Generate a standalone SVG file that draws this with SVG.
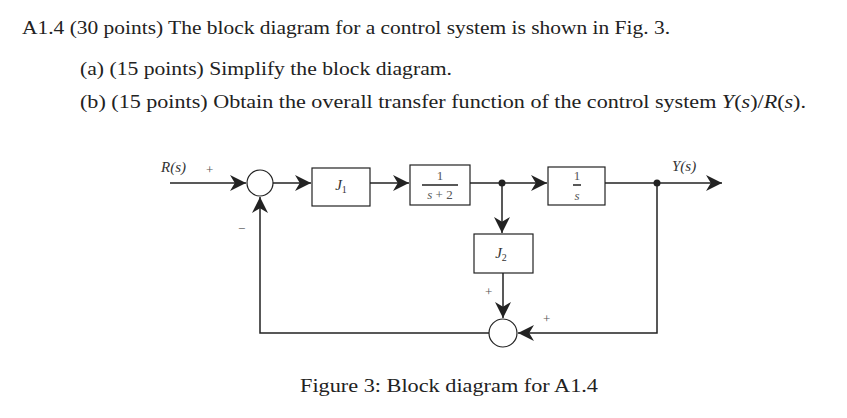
<svg xmlns="http://www.w3.org/2000/svg" width="847" height="418" viewBox="0 0 847 418">
<style>
.t{font-family:"Liberation Serif",serif;font-size:19px;fill:#222}
.m{font-family:"Liberation Serif",serif;font-size:15px;fill:#333;font-style:italic}
.s{font-family:"Liberation Serif",serif;font-size:13px;fill:#555}
.b{fill:#fff;stroke:#222;stroke-width:1.2}
.l{fill:none;stroke:#222;stroke-width:1.5}
</style>
<defs><marker id="a" viewBox="0 0 10 10" refX="10" refY="5" markerWidth="16" markerHeight="16" markerUnits="userSpaceOnUse" orient="auto"><path d="M0,0L10,5L0,10L3,5z" fill="#222"/></marker></defs>
<rect width="847" height="418" fill="#fff"/>
<text class="t" x="22" y="34" textLength="648" lengthAdjust="spacingAndGlyphs">A1.4 (30 points) The block diagram for a control system is shown in Fig. 3.</text>
<text class="t" x="80" y="75" textLength="372" lengthAdjust="spacingAndGlyphs">(a) (15 points) Simplify the block diagram.</text>
<text class="t" x="80" y="108" textLength="726" lengthAdjust="spacingAndGlyphs">(b) (15 points) Obtain the overall transfer function of the control system <tspan font-style="italic">Y</tspan>(<tspan font-style="italic">s</tspan>)/<tspan font-style="italic">R</tspan>(<tspan font-style="italic">s</tspan>).</text>
<g id="connectors">
<path class="l" d="M170,183H246" marker-end="url(#a)"/>
<path class="l" d="M273,183H311" marker-end="url(#a)"/>
<path class="l" d="M370,183H409" marker-end="url(#a)"/>
<path class="l" d="M470,183H547" marker-end="url(#a)"/>
<path class="l" d="M502,183V233" marker-end="url(#a)"/>
<path class="l" d="M605,183H722" marker-end="url(#a)"/>
<path class="l" d="M503,273V318" marker-end="url(#a)"/>
<path class="l" d="M657,183V333H518" marker-end="url(#a)"/>
<path class="l" d="M489,333H260V197" marker-end="url(#a)"/>
<circle cx="502" cy="183" r="3.5" fill="#222"/>
<circle cx="657" cy="183" r="3.5" fill="#222"/>
</g>
<g id="sum1"><circle class="b" cx="260" cy="183" r="13"/></g>
<g id="J1"><rect class="b" x="312" y="168" width="58" height="38"/><text class="m" x="341" y="190" text-anchor="middle">J<tspan font-size="10" dy="3" font-style="normal">1</tspan></text></g>
<g id="G1"><rect class="b" x="410" y="165" width="60" height="40"/><text class="s" x="440" y="180" text-anchor="middle">1</text><path d="M422,185H458" stroke="#222" stroke-width="1.5"/><text class="s" x="440" y="199" text-anchor="middle" font-style="italic">s <tspan font-style="normal">+ 2</tspan></text></g>
<g id="G2"><rect class="b" x="548" y="167" width="57" height="38"/><text class="s" x="577" y="180" text-anchor="middle">1</text><path d="M573,185H581" stroke="#222" stroke-width="1.5"/><text class="s" x="577" y="200" text-anchor="middle" font-style="italic">s</text></g>
<g id="J2"><rect class="b" x="474" y="234" width="59" height="39"/><text class="m" x="501" y="258" text-anchor="middle">J<tspan font-size="10" dy="3" font-style="normal">2</tspan></text></g>
<g id="sum2"><circle class="b" cx="503" cy="333" r="14"/></g>
<text class="m" x="161" y="172" font-style="normal"><tspan font-style="italic">R</tspan>(<tspan font-style="italic">s</tspan>)</text>
<text class="s" x="206" y="174">+</text>
<text class="m" x="672" y="171" font-style="normal"><tspan font-style="italic">Y</tspan>(<tspan font-style="italic">s</tspan>)</text>
<text class="s" x="238" y="233">−</text>
<text class="s" x="485" y="296">+</text>
<text class="s" x="543" y="323">+</text>
<text class="t" x="300" y="392" textLength="298" lengthAdjust="spacingAndGlyphs">Figure 3: Block diagram for A1.4</text>
</svg>
